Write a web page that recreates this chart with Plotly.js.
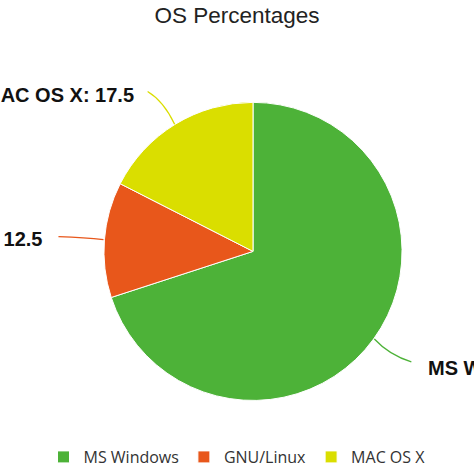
<!DOCTYPE html>
<html><head><meta charset="utf-8">
<script src="https://cdn.plot.ly/plotly-3.0.1.min.js"></script>
<style>html,body{margin:0;padding:0;background:#fff;overflow:hidden}</style>
</head><body><div id="chart" style="width:474px;height:474px"></div>
<script>
// ---- data ----
const labels = ['MS Windows', 'GNU/Linux', 'MAC OS X'];
const values = [70, 12.5, 17.5];
const colors = ['#4db238', '#e8571b', '#dade00'];
const chartTitle = 'OS Percentages';

// ---- layout constants (px) ----
const W = 474, H = 474;
const cx = 253, cy = 253, R = 150;
const domain = {x: [(cx - R) / W, (cx + R) / W], y: [1 - (cy + R) / H, 1 - (cy - R) / H]};

// leader-line styling: offset of line end from slice edge, label gap
const leadOff = [[37, 23], [-45, -3], [-27, -33]];
const labelGap = [[15, 6], [-14, 2], [-12, 3]];
const anchors = ['left', 'right', 'right'];

const total = values.reduce((a, b) => a + b, 0);
let acc = 0;
const mids = values.map(v => { const m = (acc + v / 2) / total * 2 * Math.PI; acc += v; return m; });

const px = x => x / W, py = y => 1 - y / H;
const shapes = [], annotations = [];
mids.forEach((a, i) => {
  const ex = cx + R * Math.sin(a), ey = cy - R * Math.cos(a);
  const tx = ex + leadOff[i][0], ty = ey + leadOff[i][1];
  const qx = ex + leadOff[i][0] * 0.4, qy = ey + leadOff[i][1] * 0.7;
  shapes.push({type: 'path', xref: 'paper', yref: 'paper',
    path: `M ${px(ex)} ${py(ey)} Q ${px(qx)} ${py(qy)} ${px(tx)} ${py(ty)}`,
    line: {color: colors[i], width: 1.3}});
  annotations.push({xref: 'paper', yref: 'paper', x: px(tx + labelGap[i][0]), y: py(ty + labelGap[i][1]),
    xanchor: anchors[i], yanchor: 'middle', showarrow: false,
    text: `<b>${labels[i]}: ${values[i]}</b>`,
    font: {family: 'Liberation Sans, Arial, sans-serif', size: 20, color: '#111'}});
});

const trace = {
  type: 'pie', labels: labels, values: values, sort: false, direction: 'clockwise', rotation: 0,
  domain: domain, textinfo: 'none', hoverinfo: 'label+value',
  marker: {colors: colors, line: {color: '#ffffff', width: 1}}
};

const layout = {
  width: W, height: H, margin: {l: 0, r: 0, t: 0, b: 0},
  paper_bgcolor: '#fff', plot_bgcolor: '#fff',
  title: {text: chartTitle, x: 0.5, xanchor: 'center', y: 1 - 15 / H, yanchor: 'middle', yref: 'container',
    font: {family: 'Liberation Sans, Arial, sans-serif', size: 22.5, color: '#222'}},
  showlegend: true,
  legend: {orientation: 'h', x: 0.5, xanchor: 'center', y: 1 - 460 / H, yanchor: 'middle',
    font: {family: 'Open Sans, sans-serif', size: 16, color: '#333'}, traceorder: 'normal'},
  shapes: shapes, annotations: annotations
};

Plotly.newPlot('chart', [trace], layout, {displayModeBar: false, staticPlot: true});
</script></body></html>
